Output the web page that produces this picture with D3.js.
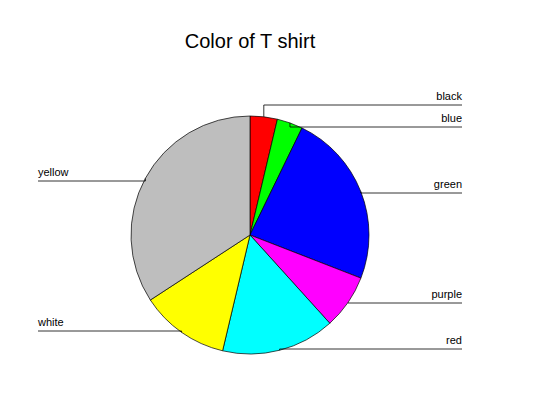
<!DOCTYPE html>
<html lang="en">
<head>
<meta charset="utf-8">
<title>Color of T shirt</title>
<script src="https://d3js.org/d3.v7.min.js"></script>
<style>
  body { margin: 0; background: #fff; }
  text { font-family: "Liberation Sans", Arial, sans-serif; }
</style>
</head>
<body>
<script>
var labels = ["black", "blue", "green", "purple", "red", "white", "yellow"];
var values = [3.7, 3.5, 23.7, 7.4, 15.4, 12.1, 34.2];
var fills = ["#ff0000", "#00ff00", "#0000ff", "#ff00ff", "#00ffff", "#ffff00", "#bebebe"];
// y position of each label leader line
var labelY = [105, 127, 193, 303, 349, 331, 181];

var width = 535, height = 410, cx = 250, cy = 235, r = 119;

var svg = d3.select("body").append("svg")
    .attr("width", width).attr("height", height);

svg.append("text")
    .attr("x", cx).attr("y", 48)
    .attr("text-anchor", "middle")
    .attr("font-size", 20)
    .text("Color of T shirt");

var pie = d3.pie().sort(null).value(function(d) { return d; });
var arcs = pie(values);
var arc = d3.arc().innerRadius(0).outerRadius(r);

var g = svg.append("g").attr("transform", "translate(" + cx + "," + cy + ")");

g.selectAll("path")
    .data(arcs)
    .enter().append("path")
    .attr("d", arc)
    .attr("fill", function(d, i) { return fills[i]; })
    .attr("stroke", "#000")
    .attr("stroke-width", 0.7);

arcs.forEach(function(d, i) {
  var a = (d.startAngle + d.endAngle) / 2;
  var x = cx + r * Math.sin(a), y = cy - r * Math.cos(a);
  var ly = labelY[i];
  var right = Math.sin(a) >= 0;
  var endX = right ? 462 : 38;
  svg.append("path")
      .attr("d", "M" + x + "," + y + "L" + x + "," + ly + "L" + endX + "," + ly)
      .attr("fill", "none")
      .attr("stroke", "#000")
      .attr("stroke-width", 0.8);
  svg.append("text")
      .attr("x", endX)
      .attr("y", ly - 5)
      .attr("text-anchor", right ? "end" : "start")
      .attr("font-size", 11)
      .text(labels[i]);
});
</script>
</body>
</html>
